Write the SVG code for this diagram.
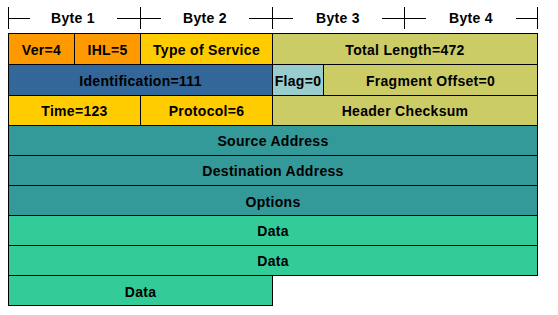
<svg xmlns="http://www.w3.org/2000/svg" width="558" height="315" viewBox="0 0 558 315">
<style>
text{font-family:"Liberation Sans",Arial,sans-serif;font-weight:bold;font-size:14px;letter-spacing:0.3px;fill:#000;text-anchor:middle}
.c rect{stroke:#000;stroke-width:1}
.tick{stroke:#000;stroke-width:1;fill:none}
.or{fill:#FF9900}.ye{fill:#FFCC00}.ol{fill:#CCCC66}.bl{fill:#336699}.lb{fill:#99CCCC}.te{fill:#339999}.gr{fill:#33CC99}
</style>
<g id="ruler" class="tick">
<path d="M8.5 7V29M140.5 7V29M272.5 7V29M404.5 7V29M537.5 7V29"/>
<path d="M8.5 18.5H30M117 18.5H161M249 18.5H293M382 18.5H426M516 18.5H537.5"/>
</g>
<g id="ruler-labels">
<text x="73" y="23">Byte 1</text>
<text x="205" y="23">Byte 2</text>
<text x="338" y="23">Byte 3</text>
<text x="471" y="23">Byte 4</text>
</g>
<g class="c">
<g id="ver"><rect class="or" x="8.5" y="33.5" width="66" height="31"/><text x="41.5" y="55">Ver=4</text></g>
<g id="ihl"><rect class="or" x="74.5" y="33.5" width="66" height="31"/><text x="107.5" y="55">IHL=5</text></g>
<g id="tos"><rect class="ye" x="140.5" y="33.5" width="132" height="31"/><text x="206.5" y="55">Type of Service</text></g>
<g id="totlen"><rect class="ol" x="272.5" y="33.5" width="265" height="31"/><text x="405" y="55">Total Length=472</text></g>
<g id="ident"><rect class="bl" x="8.5" y="64.5" width="264" height="31"/><text x="140.5" y="86">Identification=111</text></g>
<g id="flag"><rect class="lb" x="272.5" y="64.5" width="51" height="31"/><text x="298" y="86">Flag=0</text></g>
<g id="frag"><rect class="ol" x="323.5" y="64.5" width="214" height="31"/><text x="430.5" y="86">Fragment Offset=0</text></g>
<g id="ttl"><rect class="ye" x="8.5" y="95.5" width="132" height="30"/><text x="74.5" y="116">Time=123</text></g>
<g id="proto"><rect class="ye" x="140.5" y="95.5" width="132" height="30"/><text x="206.5" y="116">Protocol=6</text></g>
<g id="chk"><rect class="ol" x="272.5" y="95.5" width="265" height="30"/><text x="405" y="116">Header Checksum</text></g>
<g id="src"><rect class="te" x="8.5" y="125.5" width="529" height="30"/><text x="273" y="146">Source Address</text></g>
<g id="dst"><rect class="te" x="8.5" y="155.5" width="529" height="30"/><text x="273" y="176">Destination Address</text></g>
<g id="opt"><rect class="te" x="8.5" y="185.5" width="529" height="30"/><text x="273" y="207">Options</text></g>
<g id="data1"><rect class="gr" x="8.5" y="215.5" width="529" height="30"/><text x="273" y="236">Data</text></g>
<g id="data2"><rect class="gr" x="8.5" y="245.5" width="529" height="30"/><text x="273" y="266">Data</text></g>
<g id="data3"><rect class="gr" x="8.5" y="275.5" width="264" height="30"/><text x="140.5" y="297">Data</text></g>
</g>
</svg>
